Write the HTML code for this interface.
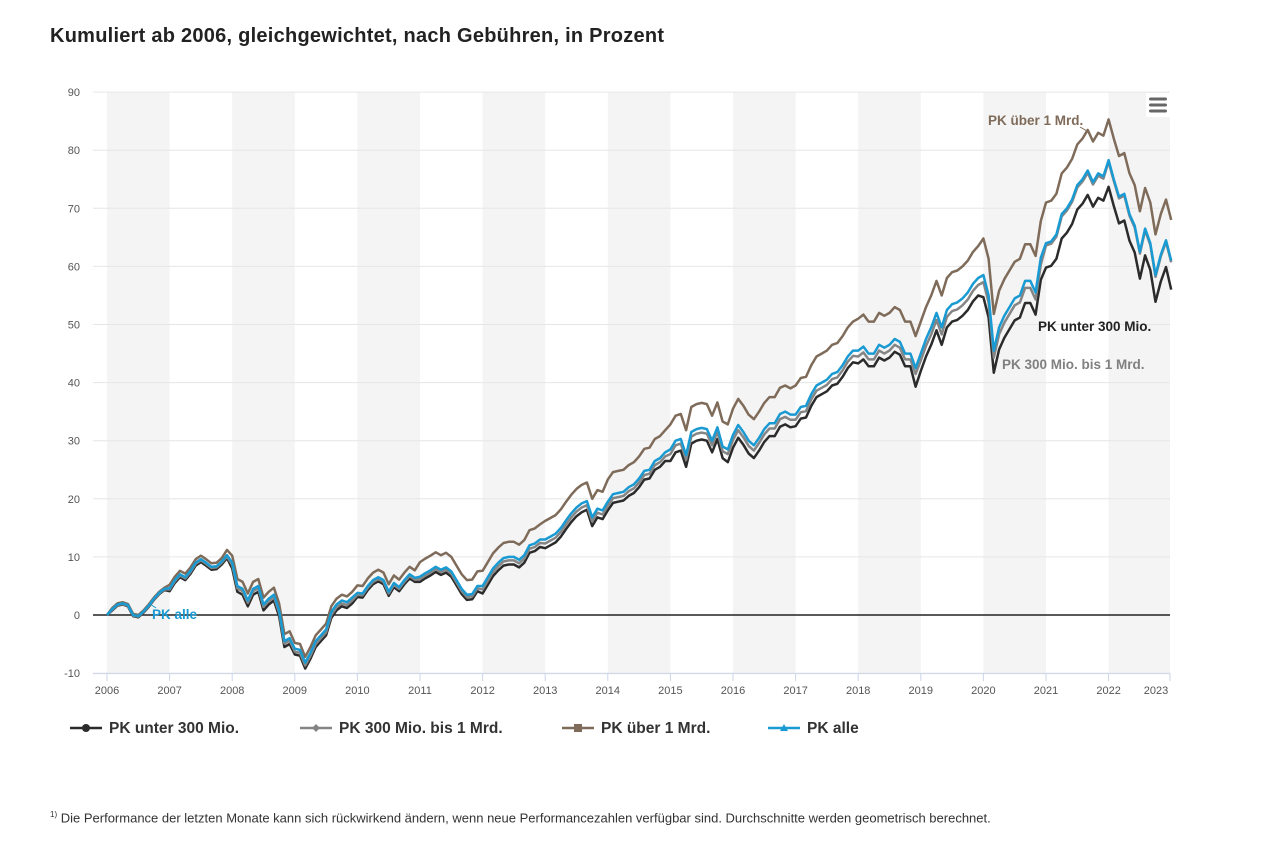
<!DOCTYPE html>
<html><head><meta charset="utf-8"><style>
body{margin:0;background:#fff;font-family:"Liberation Sans",sans-serif;}
#wrap{position:relative;width:1265px;height:842px;overflow:hidden;}
h1{position:absolute;left:50px;top:25px;margin:0;font-size:20px;letter-spacing:0.25px;font-weight:bold;color:#222;}
.foot{position:absolute;left:50px;top:810px;font-size:13px;color:#333;}
.foot sup{font-size:8px;}
</style></head><body><div id="wrap">
<h1>Kumuliert ab 2006, gleichgewichtet, nach Gebühren, in Prozent</h1>
<svg id="chart" width="1265" height="842" style="position:absolute;left:0;top:0"></svg>
<div class="foot"><sup>1)</sup> Die Performance der letzten Monate kann sich rückwirkend ändern, wenn neue Performancezahlen verfügbar sind. Durchschnitte werden geometrisch berechnet.</div>
</div>
<script>
const yearTicks=[2006,2007,2008,2009,2010,2011,2012,2013,2014,2015,2016,2017,2018,2019,2020,2021,2022,2023];
const yTicks=[-10,0,10,20,30,40,50,60,70,80,90];
const startYear=2006;
const seriesNames=["PK unter 300 Mio.","PK 300 Mio. bis 1 Mrd.","PK über 1 Mrd.","PK alle"];
const pkUnter=[0,0.8,1.6,1.8,1.5,-0.2,-0.4,0.4,1.4,2.6,3.6,4.3,
4.1,5.5,6.5,6,7.1,8.5,9.1,8.5,7.8,7.9,8.7,9.8,
8,4,3.5,1.5,3.5,4,0.8,1.8,2.5,-0.2,-5.5,-5,
-6.8,-7,-9.2,-7.5,-5.5,-4.5,-3.5,-0.5,0.8,1.5,1.2,2,
3.1,3,4.3,5.3,5.8,5.3,3.3,4.8,4.1,5.3,6.3,5.7,
5.7,6.3,6.8,7.4,6.9,7.3,6.6,5.1,3.6,2.6,2.7,4.1,
3.7,5.2,6.7,7.7,8.5,8.7,8.7,8.2,9,10.7,11,11.7,
11.5,12,12.5,13.5,14.8,16,17,17.7,18.1,15.3,16.8,16.5,
18,19.3,19.5,19.7,20.5,21,22,23.3,23.5,25,25.5,26.5,
26.5,28,28.3,25.5,29.5,30,30.2,30,28,30.3,27,26.3,
28.8,30.5,29.3,27.8,27,28.3,29.8,30.8,30.8,32.4,32.8,32.3,
32.5,33.8,34,36,37.5,38,38.5,39.5,39.8,41,42.5,43.5,
43.3,44,42.8,42.8,44.3,43.8,44.3,45.3,44.8,42.8,42.8,39.3,
42,44.5,46.5,49,46.5,49.5,50.5,50.8,51.5,52.5,54,55,
54.7,51.2,41.7,45.7,47.7,49.2,50.7,51.2,53.7,53.7,51.7,57.7,
59.8,60.1,61.3,64.8,65.8,67.3,69.8,70.8,72.3,70.3,71.8,71.3,
73.7,70.4,67.4,67.9,64.4,62.4,57.9,61.9,59.4,53.9,57.4,59.9,
56];
const pkMittel=[0,0.9,1.7,1.9,1.6,-0.1,-0.3,0.5,1.5,2.7,3.7,4.4,
4.4,5.8,6.8,6.3,7.4,8.8,9.4,8.8,8.1,8.2,9,10.1,
8.6,4.6,4.1,2.1,4.1,4.6,1.4,2.4,3.1,0.4,-4.9,-4.4,
-6.3,-6.5,-8.7,-7,-5,-4,-3,0,1.3,2,1.7,2.5,
3.5,3.4,4.7,5.7,6.2,5.7,3.7,5.2,4.5,5.7,6.7,6.1,
6.2,6.8,7.3,7.9,7.4,7.8,7.1,5.6,4.1,3.1,3.2,4.6,
4.4,5.9,7.4,8.4,9.2,9.4,9.4,8.9,9.7,11.4,11.7,12.4,
12.3,12.8,13.3,14.3,15.6,16.8,17.8,18.5,18.9,16.1,17.6,17.3,
18.8,20.1,20.3,20.5,21.3,21.8,22.8,24.1,24.3,25.8,26.3,27.3,
27.7,29.2,29.5,26.7,30.7,31.2,31.4,31.2,29.2,31.5,28.2,27.7,
30.1,31.8,30.6,29.1,28.3,29.6,31.1,32.1,32.1,33.7,34.1,33.6,
33.6,34.9,35.1,37.1,38.6,39.1,39.6,40.6,40.9,42.1,43.6,44.6,
44.5,45.2,44,44,45.5,45,45.5,46.5,46,44,44,41.5,
43.8,46.3,48.3,50.8,48.3,51.3,52.3,52.6,53.3,54.3,55.8,56.8,
57.3,53.8,44.3,48.3,50.3,51.8,53.3,53.8,56.3,56.3,54.3,60.3,
63.6,63.9,65.1,68.6,69.6,71.1,73.6,74.6,76.1,74.1,75.6,75.1,
78,74.7,71.7,72.2,68.7,66.7,62.2,66.2,63.7,58.2,61.7,64.2,
60.7];
const pkUeber=[0,1.2,2,2.2,1.9,0.2,0,0.8,1.8,3,4,4.7,
5.2,6.6,7.6,7.1,8.2,9.6,10.2,9.6,8.9,9,9.8,11.2,
10.2,6.2,5.7,3.7,5.7,6.2,3,4,4.7,2,-3.3,-2.8,
-4.8,-5,-7.2,-5.5,-3.5,-2.5,-1.5,1.5,2.8,3.5,3.2,4,
5.1,5,6.3,7.3,7.8,7.3,5.3,6.8,6.1,7.3,8.3,7.7,
9.1,9.7,10.2,10.8,10.3,10.7,10,8.5,7,6,6.1,7.5,
7.6,9.1,10.6,11.6,12.4,12.6,12.6,12.1,12.9,14.6,14.9,15.6,
16.2,16.7,17.2,18.2,19.5,20.7,21.7,22.4,22.8,20,21.5,21.2,
23.3,24.6,24.8,25,25.8,26.3,27.3,28.6,28.8,30.3,30.8,31.8,
32.8,34.3,34.6,31.8,35.8,36.3,36.5,36.3,34.3,36.6,33.3,32.8,
35.5,37.2,36,34.5,33.7,35,36.5,37.5,37.5,39.1,39.5,39,
39.5,40.8,41,43,44.5,45,45.5,46.5,46.8,48,49.5,50.5,
51,51.7,50.5,50.5,52,51.5,52,53,52.5,50.5,50.5,48,
50.5,53,55,57.5,55,58,59,59.3,60,61,62.5,63.5,
64.8,61.3,51.8,55.8,57.8,59.3,60.8,61.3,63.8,63.8,61.8,67.8,
71,71.3,72.5,76,77,78.5,81,82,83.5,81.5,83,82.5,
85.3,82,79,79.5,76,74,69.5,73.5,71,65.5,69,71.5,
68];
const pkAlle=[0,1,1.8,2,1.7,0,-0.2,0.6,1.6,2.8,3.8,4.5,
4.6,6,7,6.5,7.6,9,9.6,9,8.3,8.4,9.2,10.3,
9,5,4.5,2.5,4.5,5,1.8,2.8,3.5,0.8,-4.5,-4,
-5.8,-6,-8.2,-6.5,-4.5,-3.5,-2.5,0.5,1.8,2.5,2.2,3,
3.8,3.7,5,6,6.5,6,4,5.5,4.8,6,7,6.4,
6.6,7.2,7.7,8.3,7.8,8.2,7.5,6,4.5,3.5,3.6,5,
5,6.5,8,9,9.8,10,10,9.5,10.3,12,12.3,13,
13,13.5,14,15,16.3,17.5,18.5,19.2,19.6,16.8,18.3,18,
19.5,20.8,21,21.2,22,22.5,23.5,24.8,25,26.5,27,28,
28.5,30,30.3,27.5,31.5,32,32.2,32,30,32.3,29,28.5,
31,32.7,31.5,30,29.2,30.5,32,33,33,34.6,35,34.5,
34.5,35.8,36,38,39.5,40,40.5,41.5,41.8,43,44.5,45.5,
45.5,46.2,45,45,46.5,46,46.5,47.5,47,45,45,42.5,
45,47.5,49.5,52,49.5,52.5,53.5,53.8,54.5,55.5,57,58,
58.5,55,45.5,49.5,51.5,53,54.5,55,57.5,57.5,55.5,61.5,
64,64.3,65.5,69,70,71.5,74,75,76.5,74.5,76,75.5,
78.3,75,72,72.5,69,67,62.5,66.5,64,58.5,62,64.5,
61];

const NS='http://www.w3.org/2000/svg';
const svg=document.getElementById('chart');
const X0=107,PXY=62.6,Y0=615,PXV=5.81,LEFT=93,RIGHT=1170;
function xs(t){return X0+(t-startYear)*PXY;}
function ys(v){return Y0-v*PXV;}
function mk(tag,attrs,parent){const e=document.createElementNS(NS,tag);for(const k in attrs)e.setAttribute(k,attrs[k]);(parent||svg).appendChild(e);return e;}

yearTicks.forEach((yr)=>{
  if(yr%2===0){
    const x1=xs(yr),x2=Math.min(xs(yr+1),RIGHT);
    if(x2>x1){const r=mk('rect',{x:x1,y:ys(90),width:x2-x1,height:ys(-10)-ys(90),fill:'#f4f4f4'});
    
    }
  }
});
yTicks.forEach(v=>{
  const g=mk('line',{x1:LEFT,x2:RIGHT,y1:ys(v),y2:ys(v),stroke:v===0?'#222':'#e6e6e6','stroke-width':v===0?1.5:1});
  
  
  const t=mk('text',{x:80,y:ys(v)+4,'text-anchor':'end','font-size':11,fill:'#555','font-family':'Liberation Sans, sans-serif'});
  t.textContent=v;
  
  
});
const ax=mk('line',{x1:LEFT,x2:RIGHT,y1:ys(-10)+0.5,y2:ys(-10)+0.5,stroke:'#ccd6eb','stroke-width':1});


yearTicks.forEach(yr=>{
  const x=Math.min(xs(yr),RIGHT);
  const tk=mk('line',{x1:x,x2:x,y1:ys(-10),y2:ys(-10)+8,stroke:'#ccd6eb'});
  
  
  const t=mk('text',{x:yr===2023?x-14:x,y:694,'text-anchor':'middle','font-size':11,fill:'#555','font-family':'Liberation Sans, sans-serif'});
  t.textContent=yr;
  
  
});
const seriesData=[pkUnter,pkMittel,pkUeber,pkAlle];
const colors=['#2b2b2b','#858585','#7f6b5a','#1a9ad2'];
const ids=['series-pk-unter-300','series-pk-300-1mrd','series-pk-ueber-1mrd','series-pk-alle'];
[2,0,1,3].forEach(i=>{
  const d=seriesData[i].map((v,k)=>(k?'L':'M')+xs(startYear+k/12).toFixed(1)+','+ys(v).toFixed(1)).join(' ');
  const p=mk('path',{d:d,fill:'none',stroke:colors[i],'stroke-width':2.5,'stroke-linejoin':'round'});
  
  
});
function lbl(txt,x,y,col,name){const t=mk('text',{x:x,y:y,'font-size':13.5,'font-weight':'bold',fill:col,'font-family':'Liberation Sans, sans-serif'});t.textContent=txt;

}
lbl('PK über 1 Mrd.',988,125,'#7f6b5a','label-pk-ueber');
lbl('PK unter 300 Mio.',1038,331,'#222','label-pk-unter');
lbl('PK 300 Mio. bis 1 Mrd.',1002,369,'#808080','label-pk-mittel');
lbl('PK alle',152,619,'#1a9ad2','label-pk-alle');
const c1=mk('path',{d:'M1080,127 L1087,131',stroke:'#7f6b5a',fill:'none'});


const c2=mk('path',{d:'M150,604 L156,608',stroke:'#1a9ad2',fill:'none'});


const mg=mk('g',{});


mk('rect',{x:1146,y:93,width:24,height:24,fill:'#fff'},mg);
[99,105,111].forEach(y=>mk('rect',{x:1149,y:y-1.5,width:18,height:3,rx:1.5,fill:'#666'},mg));
const legX=[70,300,562,768];
const markers=['circle','diamond','square','triangle'];
seriesNames.forEach((n,i)=>{
  const g=mk('g',{});
  
  
  const x=legX[i],y=728;
  mk('line',{x1:x,x2:x+32,y1:y,y2:y,stroke:colors[i],'stroke-width':2.5},g);
  const cx=x+16;
  if(markers[i]==='circle')mk('circle',{cx:cx,cy:y,r:4,fill:colors[i]},g);
  if(markers[i]==='diamond')mk('path',{d:`M${cx},${y-4} L${cx+4},${y} L${cx},${y+4} L${cx-4},${y}Z`,fill:colors[i]},g);
  if(markers[i]==='square')mk('rect',{x:cx-4,y:y-4,width:8,height:8,fill:colors[i]},g);
  if(markers[i]==='triangle')mk('path',{d:`M${cx},${y-4} L${cx+4},${y+3} L${cx-4},${y+3}Z`,fill:colors[i]},g);
  const t=mk('text',{x:x+39,y:y+5,'font-size':15.5,'font-weight':'bold',fill:'#333','font-family':'Liberation Sans, sans-serif'},g);
  t.textContent=n;
});
</script></body></html>
